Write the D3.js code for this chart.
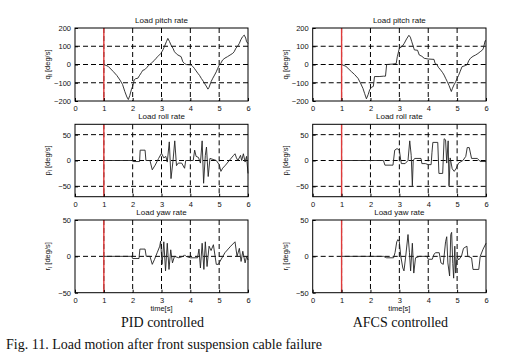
<!DOCTYPE html>
<html><head><meta charset="utf-8">
<script src="https://cdn.jsdelivr.net/npm/d3@7"></script>
<style>
body{margin:0;background:#fff;}
svg{display:block;}
text{font-family:"Liberation Sans",Arial,sans-serif;fill:#111;}
.serif{font-family:"Liberation Serif","Times New Roman",serif;}
</style></head>
<body>
<svg id="chart" width="513" height="363"></svg>
<script>
// ---- data ----
const xTicks = [0,1,2,3,4,5,6];
const pitchTicks = [-200,-100,0,100,200];
const rateTicks = [-50,0,50];
const failureTime = 1;

const pitchPID = [[1,0],[1.15,-10],[1.33,-39],[1.45,-60],[1.56,-85],[1.65,-110],[1.73,-149],[1.8,-178],[1.85,-192],[1.9,-170],[1.96,-135],[2.0,-120],[2.05,-85],[2.1,-78],[2.18,-75],[2.23,-62],[2.3,-45],[2.35,-32],[2.42,-28],[2.5,-15],[2.55,-5],[2.64,6],[2.7,15],[2.75,22],[2.81,34],[2.9,48],[2.98,61],[3.05,80],[3.1,98],[3.17,125],[3.22,143],[3.28,125],[3.33,107],[3.4,88],[3.45,70],[3.52,58],[3.57,52],[3.68,43],[3.74,15],[3.8,5],[3.86,0],[4.03,-3],[4.08,-10],[4.14,-21],[4.2,-35],[4.26,-48],[4.32,-60],[4.38,-76],[4.45,-92],[4.49,-103],[4.55,-118],[4.61,-135],[4.65,-125],[4.72,-94],[4.78,-75],[4.84,-58],[4.9,-40],[4.95,-21],[5.0,-5],[5.05,5],[5.12,25],[5.2,35],[5.29,43],[5.38,52],[5.47,61],[5.52,70],[5.58,89],[5.64,100],[5.7,116],[5.75,135],[5.81,152],[5.87,161],[5.92,145],[5.95,125],[6,115]];
const pitchAFCS = [[1,0],[1.15,-10],[1.34,-39],[1.45,-55],[1.57,-76],[1.65,-100],[1.74,-131],[1.8,-160],[1.86,-188],[1.92,-165],[1.97,-140],[2.03,-125],[2.1,-120],[2.14,-66],[2.3,-66],[2.45,-64],[2.52,-64],[2.56,0],[2.75,2],[2.89,5],[2.93,43],[3.0,89],[3.1,100],[3.17,116],[3.25,140],[3.33,160],[3.38,150],[3.43,125],[3.48,100],[3.52,80],[3.63,78],[3.69,52],[3.78,45],[3.86,34],[4.0,30],[4.2,28],[4.24,5],[4.3,0],[4.35,-15],[4.43,-30],[4.5,-45],[4.55,-58],[4.6,-75],[4.66,-94],[4.72,-115],[4.8,-148],[4.84,-130],[4.89,-112],[4.95,-95],[5.0,-76],[5.05,-60],[5.1,-40],[5.17,-12],[5.3,-5],[5.35,0],[5.4,20],[5.46,34],[5.55,45],[5.64,52],[5.72,60],[5.8,70],[5.88,80],[5.91,89],[5.97,130],[6,130]];
const rollPID = [[1,0],[2,0],[2.02,-2],[2.24,-2],[2.26,20],[2.43,20],[2.46,0],[2.6,0],[2.68,-18],[2.78,-9],[2.9,4],[3.0,14],[3.08,5],[3.15,8],[3.2,-3],[3.27,36],[3.33,-35],[3.4,0],[3.46,38],[3.52,-10],[3.58,-5],[3.7,-5],[3.8,-15],[3.84,0],[4.1,0],[4.15,20],[4.2,8],[4.28,6],[4.35,-5],[4.41,38],[4.46,-44],[4.52,10],[4.56,26],[4.62,-31],[4.68,4],[4.9,0],[5.0,-8],[5.06,-21],[5.12,-15],[5.22,-9],[5.35,0],[5.5,10],[5.55,13],[5.6,5],[5.65,0],[5.74,10],[5.78,0],[5.84,13],[5.9,-3],[5.95,8],[6,-25]];
const rollAFCS = [[1,0],[2.45,0],[2.5,-9],[2.78,-9],[2.84,20],[2.92,23],[3.0,20],[3.05,0],[3.07,-6],[3.2,-6],[3.3,0],[3.36,38],[3.41,10],[3.45,-49],[3.48,0],[3.53,4],[3.75,4],[3.78,-6],[3.9,-6],[4.0,-8],[4.1,-8],[4.13,16],[4.16,35],[4.33,35],[4.37,-25],[4.5,-25],[4.55,42],[4.6,40],[4.64,-5],[4.69,38],[4.72,-49],[4.76,5],[4.83,-16],[4.9,-21],[4.97,-15],[5.05,-5],[5.2,0],[5.3,8],[5.35,25],[5.42,25],[5.5,4],[5.7,4],[5.8,-2],[6,-2]];
const yawPID = [[1,0],[1.97,0],[2.0,-3],[2.22,-3],[2.25,10],[2.43,10],[2.47,0],[2.6,0],[2.68,-11],[2.76,-4],[2.85,5],[2.94,14],[2.97,21],[3.02,-11],[3.08,20],[3.14,-20],[3.2,18],[3.26,-18],[3.32,9],[3.38,-9],[3.45,0],[3.6,-2],[3.75,0],[3.8,2],[3.85,0],[4.0,-2],[4.25,-2],[4.3,10],[4.35,-16],[4.41,18],[4.47,-18],[4.52,20],[4.58,-14],[4.65,14],[4.72,8],[4.8,16],[4.9,-11],[4.97,-11],[5.2,5],[5.4,14],[5.55,20],[5.62,0],[5.7,11],[5.76,-7],[5.82,7],[5.9,-9],[5.95,0],[6,-5]];
const yawAFCS = [[1,0],[2.45,0],[2.56,-2],[2.8,-2],[2.85,5],[2.91,20],[2.95,23],[3.0,20],[3.05,0],[3.12,-16],[3.16,-20],[3.22,0],[3.3,30],[3.35,5],[3.39,-20],[3.45,18],[3.5,-23],[3.56,-2],[3.7,0],[3.95,0],[4.0,-4],[4.14,-4],[4.2,3],[4.26,5],[4.38,5],[4.44,-9],[4.52,-11],[4.6,20],[4.64,27],[4.68,-9],[4.74,-27],[4.78,30],[4.81,33],[4.85,-10],[4.88,-30],[4.92,14],[4.95,-23],[5.0,0],[5.05,-5],[5.15,0],[5.22,11],[5.34,14],[5.37,0],[5.5,-2],[5.55,-18],[5.75,-18],[5.8,0],[5.9,10],[6,18]];

const titles = ["Load pitch rate","Load roll rate","Load yaw rate"];
const ySymbols = ["q","p","r"];
const columnLabels = ["PID controlled","AFCS controlled"];
const caption = "Fig. 11. Load motion after front suspension cable failure";

// ---- layout ----
const svg = d3.select("#chart");
const cols = [{x0:75,x1:248},{x0:312.7,x1:486}];
const rows = [
  {y0:28,y1:101,dom:[-200,200],ticks:pitchTicks,series:[pitchPID,pitchAFCS]},
  {y0:124.3,y1:196.7,dom:[-70,70],ticks:rateTicks,series:[rollPID,rollAFCS]},
  {y0:220,y1:292.7,dom:[-50,50],ticks:rateTicks,series:[yawPID,yawAFCS]}
];

rows.forEach((r,ri)=>{
  cols.forEach((c,ci)=>{
    const x = d3.scaleLinear().domain([0,6]).range([c.x0,c.x1]);
    const y = d3.scaleLinear().domain(r.dom).range([r.y1,r.y0]);
    const g = svg.append("g");
    // grid
    const gx = xTicks.filter(t=>t>0&&t<6);
    g.selectAll(".vg").data(gx).join("line")
      .attr("x1",d=>x(d)).attr("x2",d=>x(d)).attr("y1",r.y0).attr("y2",r.y1)
      .attr("stroke","#000").attr("stroke-width",1).attr("stroke-dasharray","5,3");
    const gy = r.ticks.filter(t=>t>r.dom[0]&&t<r.dom[1]);
    g.selectAll(".hg").data(gy).join("line")
      .attr("x1",c.x0).attr("x2",c.x1).attr("y1",d=>y(d)).attr("y2",d=>y(d))
      .attr("stroke","#000").attr("stroke-width",1).attr("stroke-dasharray","5,3");
    // failure line
    g.append("line").attr("x1",x(failureTime)).attr("x2",x(failureTime))
      .attr("y1",r.y0).attr("y2",r.y1).attr("stroke","#e03a3a").attr("stroke-width",1.4);
    // data
    const line = d3.line().x(d=>x(d[0])).y(d=>y(d[1]));
    g.append("path").datum(r.series[ci]).attr("d",line)
      .attr("fill","none").attr("stroke","#222").attr("stroke-width",0.9);
    // axes (labels only, box)
    const ax = d3.axisBottom(x).tickValues(xTicks).tickSize(-3).tickPadding(5).tickFormat(d3.format("d"));
    const axg = g.append("g").attr("transform",`translate(0,${r.y1})`).call(ax);
    const ay = d3.axisLeft(y).tickValues(r.ticks).tickSize(-3).tickPadding(4).tickFormat(d3.format("d"));
    const ayg = g.append("g").attr("transform",`translate(${c.x0},0)`).call(ay);
    [axg,ayg].forEach(a=>{
      a.select(".domain").remove();
      a.selectAll("line").attr("stroke","#000");
      a.selectAll("text").attr("font-size",7.5).attr("font-family","Liberation Sans, Arial, sans-serif").attr("fill","#111");
    });
    g.append("rect").attr("x",c.x0).attr("y",r.y0).attr("width",c.x1-c.x0).attr("height",r.y1-r.y0)
      .attr("fill","none").attr("stroke","#000").attr("stroke-width",1);
    // title
    g.append("text").attr("x",(c.x0+c.x1)/2).attr("y",r.y0-5).attr("text-anchor","middle")
      .attr("font-size",8).text(titles[ri]);
    // y label
    const yl = g.append("text").attr("transform",`translate(${c.x0-25},${(r.y0+r.y1)/2}) rotate(-90)`)
      .attr("text-anchor","middle").attr("font-size",7.5);
    yl.append("tspan").text(ySymbols[ri]);
    yl.append("tspan").attr("font-size",5.5).attr("dy",2).text("l");
    yl.append("tspan").attr("dy",-2).text(" [deg/s]");
    if(ri===2){
      g.append("text").attr("x",(c.x0+c.x1)/2).attr("y",r.y1+18).attr("text-anchor","middle")
        .attr("font-size",7.5).text("time[s]");
      g.append("text").attr("class","serif").attr("x",(c.x0+c.x1)/2+1).attr("y",r.y1+34).attr("text-anchor","middle")
        .attr("font-size",14).text(columnLabels[ci]);
    }
  });
});
svg.append("text").attr("class","serif").attr("x",6).attr("y",349).attr("font-size",14).text(caption);
</script>
</body></html>
